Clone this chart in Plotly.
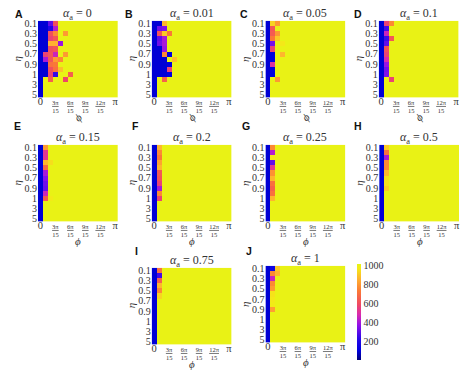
import plotly.graph_objects as go

FILL = 1000
B = 90
ETA_LABELS = ["0.1", "0.3", "0.5", "0.7", "0.9", "1", "3", "5"]
ETA_TICKS = [0, 2, 4, 6, 8, 10, 12, 14]
PHI_TICKS = [0, 3, 6, 9, 12, 15]
PHI_TOPS = ["3π", "6π", "9π", "12π"]

A_ROWS = [
    [B, B, 300, 600], [B, B, 200, 420], [B, B, 600, 760, 1000, 800], [B, B, 560, 620],
    [B, B, 850, 850, 380], [B, B, 600, 620], [B, 560, 620, 450, 1000, 800], [B, 400, 620, 800, 760],
    [B, B, 700, 720], [B, B, 600, 700, 880], [B, B, 560, 240, 1000, 1000, 650], [B, 1000, 650, 1000, 1000, 580],
    [B], [B], [B],
]
B_ROWS = [
    [B, B, 860], [B, 320, 340], [B, 620, 900, 720], [B, 300, 400],
    [B, 320, 400], [B, B, 380], [B, B, 760, 100], [B, B, B, 1000, 880],
    [B, B, B, 100], [B, B, B, 560], [B, B, B, 100], [B, 1000, 660],
    [B], [B], [B],
]
C_ROWS = [
    [B, 920, 800], [B, 620], [B, 640, 800], [B, 720, 900],
    [B, 330, 1000, 960], [B, 560], [B, 100, 1000, 860], [B, 100],
    [B, 500], [B, 100], [B, 100], [B, 1000, 800],
    [B], [B], [B],
]
D_ROWS = [
    [B, 560, 760], [B, 260], [B, 450], [B, 250, 620],
    [B, 300], [B, 600], [B, 560], [B, 480],
    [B, 380], [B, 330], [B, 340], [B, 1000, 560],
    [B], [B], [B],
]
E_ROWS = [
    [B, 800], [B, 520], [B, 520], [B, 860, 940],
    [B, 680], [B, 400], [B, 350], [B, 320],
    [B, 310], [B, 460], [B, 640, 970],
    [B], [B], [B], [B],
]
F_ROWS = [
    [B, 860], [B, 760], [B, 720], [B, 820],
    [B, 860], [B, 630], [B, 610], [B, 560],
    [B, 400], [B, 760], [B, 560],
    [B], [B], [B], [B],
]
G_ROWS = [
    [B, 760], [B, 420], [B, 960], [B, 300],
    [B, 520], [B, 780], [B, 860], [B, 700],
    [B, 660], [B, 700], [B, 860],
    [B], [B], [B], [B],
]
H_ROWS = [
    [B, 900], [B, 700], [B, 400], [B, 760],
    [B, 760], [B, 860], [B, 940], [B, 940],
    [B, 900], [B], [B],
    [B], [B], [B], [B],
]
I_ROWS = [
    [B, 700], [B, 260, 1000], [B, 650], [B, 860],
    [B, 760], [B, 920], [B], [B],
    [B], [B], [B], [B], [B], [B], [B],
]
J_ROWS = [
    [B, 150, 900], [B, 760, 860], [B, 450], [B, 760],
    [B, 800], [B, 950], [B, 960], [B, 970],
    [B, 810], [B], [B], [B], [B], [B], [B],
]

W, H = 474, 378
PANELS = [
    ("A", "0", A_ROWS, 38, 18, 19, 11, -45),
    ("B", "0.01", B_ROWS, 152, 18, 129, 11, -45),
    ("C", "0.05", C_ROWS, 266, 18, 245, 11, -45),
    ("D", "0.1", D_ROWS, 379.5, 18, 359, 11, -45),
    ("E", "0.15", E_ROWS, 38, 144, 18, 125, 0),
    ("F", "0.2", F_ROWS, 152, 144, 136, 125, 0),
    ("G", "0.25", G_ROWS, 266, 144, 247, 125, 0),
    ("H", "0.5", H_ROWS, 380, 144, 359, 125, 0),
    ("I", "0.75", I_ROWS, 152, 269, 137, 252, 0),
    ("J", "1", J_ROWS, 266, 267, 250, 252, 0),
]
PW, PH = 80, 78
SERIF = "Liberation Serif, DejaVu Serif, serif"

phi_text = ["<span style='font-size:10.5px'>0</span>"] + [
    f"<span style='text-decoration:underline'>{t}</span><br>15" for t in PHI_TOPS
] + ["<span style='font-size:10.5px'>π</span>"]

fig = go.Figure()
ann = []
for i, (letter, alpha, rows, px, py, lx, ly, ang) in enumerate(PANELS, start=1):
    z = [r + [FILL] * (16 - len(r)) for r in rows]
    fig.add_trace(go.Heatmap(z=z, x=list(range(16)), y=list(range(15)), coloraxis="coloraxis",
                             xaxis=f"x{i}", yaxis=f"y{i}", xgap=0, ygap=0))
    sfx = "" if i == 1 else str(i)
    fig.layout[f"xaxis{sfx}"] = dict(
        domain=[px / W, (px + PW) / W], anchor=f"y{i}", range=[-0.5, 15.5], showgrid=False,
        zeroline=False, ticks="", tickmode="array", tickvals=PHI_TICKS, ticktext=phi_text,
        tickangle=0, tickfont=dict(family=SERIF, size=6.5, color="#333333"), showline=False)
    fig.layout[f"yaxis{sfx}"] = dict(
        domain=[1 - (py + PH) / H, 1 - py / H], anchor=f"x{i}", range=[14.5, -0.5], showgrid=False,
        zeroline=False, ticks="", tickmode="array", tickvals=ETA_TICKS, ticktext=ETA_LABELS,
        tickfont=dict(family=SERIF, size=10, color="#333333"), showline=False)
    cx = (px + PW / 2) / W
    ann += [
        dict(text=f"<i>α</i><sub>a</sub> = {alpha}", x=cx, y=1 - (py - 7) / H, xref="paper", yref="paper",
             showarrow=False, xanchor="center", yanchor="middle",
             font=dict(family=SERIF, size=12, color="#333333")),
        dict(text=letter, x=lx / W, y=1 - ly / H, xref="paper", yref="paper", showarrow=False,
             xanchor="center", yanchor="middle",
             font=dict(family="Liberation Sans, Arial, sans-serif", size=10.5, color="#111111", weight="bold")),
        dict(text="ϕ", x=(px + PW / 2 + 0.5) / W, y=1 - (py + PH + 20) / H, xref="paper", yref="paper",
             showarrow=False, xanchor="center", yanchor="middle", textangle=ang,
             font=dict(family=SERIF, size=11, color="#333333", style="italic")),
        dict(text="η", x=(px - 20.5) / W, y=1 - (py + PH / 2) / H, xref="paper", yref="paper",
             showarrow=False, xanchor="center", yanchor="middle", textangle=-90,
             font=dict(family=SERIF, size=11, color="#333333", style="italic")),
    ]

fig.update_layout(
    width=W, height=H, margin=dict(l=0, r=0, t=0, b=0), paper_bgcolor="white", plot_bgcolor="white",
    annotations=ann, showlegend=False,
    coloraxis=dict(
        cmin=0, cmax=1010,
        colorscale=[[0, "#00007a"], [0.1, "#0000e0"], [0.22, "#2808e8"], [0.36, "#9010ea"],
                    [0.47, "#d82ab0"], [0.58, "#f04a62"], [0.72, "#fb7a35"], [0.84, "#ffb030"],
                    [0.95, "#f4e818"], [1, "#e6f514"]],
        colorbar=dict(
            x=357.3 / W, xanchor="left", y=1 - 363 / H, yanchor="bottom", thickness=3.5, thicknessmode="pixels",
            len=96, lenmode="pixels", outlinewidth=0, ticks="", tickvals=[200, 400, 600, 800, 1000],
            tickfont=dict(family=SERIF, size=10, color="#333333"), xpad=0, ypad=0, ticklabelposition="outside"),
    ),
)
fig.write_html("out.html", config={"displayModeBar": False},
               post_script="document.body.style.margin='0';document.body.style.overflow='hidden';")
